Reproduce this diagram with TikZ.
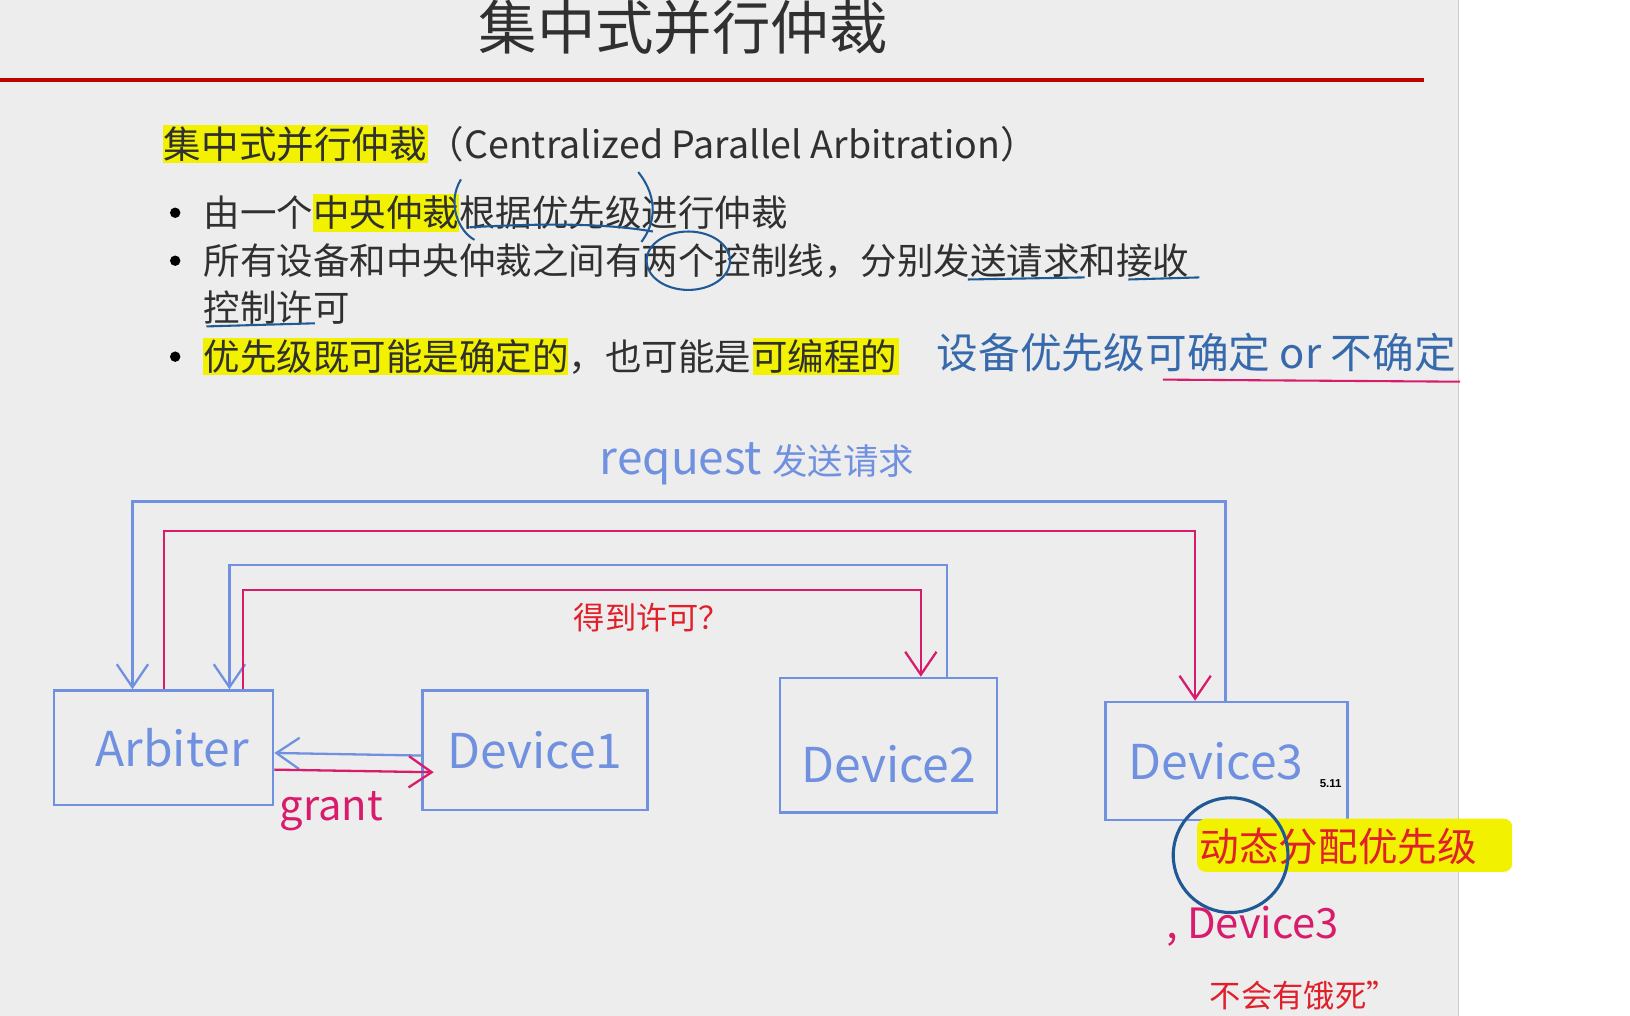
\documentclass[tikz,border=0pt]{standalone}
\usepackage{fontspec}
\setmainfont{Liberation Sans}
\newfontfamily\cjk{Noto Sans CJK SC}
\usetikzlibrary{arrows.meta}
\definecolor{bg}{HTML}{EDEDED}
\definecolor{boxblue}{HTML}{7090E0}
\definecolor{pinkl}{HTML}{D81B6A}
\definecolor{redh}{HTML}{E0202A}
\definecolor{inkblue}{HTML}{1F5A96}
\definecolor{hl}{HTML}{F2F200}
\definecolor{txt}{HTML}{303030}
\tikzset{
  fs/.style={font=\cjk\fontsize{#1}{#1}\selectfont},
  body/.style={fs=35,text=txt,anchor=west,inner sep=0pt},
  devbox/.style={draw=boxblue,line width=2.2pt,inner sep=0pt},
  bl/.style={draw=boxblue,line width=2.2pt},
  pk/.style={draw=pinkl,line width=2.2pt},
  arr/.style={-{Straight Barb[length=22pt,width=30pt,line width=2.2pt]}},
  hand/.style={inner sep=0pt,anchor=west},
  ink/.style={draw=inkblue,line width=2pt},
}
\begin{document}
\begin{tikzpicture}[x=1pt,y=-1pt]
\useasboundingbox (0,0) rectangle (1563,974);
\fill[bg] (0,0) rectangle (1398,974);
\draw[gray!40,line width=0.8pt] (1398,0) -- (1398,974);
\node[fs=56,text=txt] (title) at (655,26) {集中式并行仲裁};
\draw[red!75!black,line width=4pt] (0,77) -- (1365,77);
% heading
\fill[hl] (156,120) rectangle (410,156);
\node[body,fs=36] (head) at (157,138) {集中式并行仲裁（Centralized Parallel Arbitration）};
% highlights
\fill[hl] (300,186) rectangle (440,222);
\fill[hl] (195,324) rectangle (545,360);
\fill[hl] (722,324) rectangle (862,360);
\foreach \y/\n in {204/b1,250/b2,342/b3} \fill[black] (168,\y) circle (5) coordinate (\n);
\node[body] (l1) at (195,204) {由一个中央仲裁根据优先级进行仲裁};
\node[body] (l2) at (195,250) {所有设备和中央仲裁之间有两个控制线，分别发送请求和接收};
\node[body] (l2b) at (195,295) {控制许可};
\node[body] (l3) at (195,342) {优先级既可能是确定的，也可能是可编程的};
% blue ink annotations
\draw[ink] (442,172) .. controls (428,195) and (440,222) .. (455,230);
\draw[ink] (612,165) .. controls (632,190) and (628,215) .. (615,232);
\draw[ink] (450,218) .. controls (520,214) and (580,214) .. (626,222);
\draw[ink] (660,250) ellipse (40 and 28);
\draw[ink] (928,268) -- (1040,266);
\draw[ink] (1082,268) -- (1150,266);
\draw[ink] (198,313) -- (302,310);
\node[hand,fs=40,text=inkblue!70!boxblue] (note1) at (898,338) {设备优先级可确定 or 不确定};
\draw[pinkl,line width=2pt] (1115,364) -- (1400,366);
\node[hand,fs=44,text=boxblue] (req) at (575,445) {request \fontsize{34}{34}\selectfont 发送请求};
% boxes
\node[devbox,minimum width=210pt,minimum height=110pt] (arb) at (157,717) {};
\node[hand,fs=46,text=boxblue,anchor=center] at ([xshift=8]arb.center) {Arbiter};
\node[devbox,minimum width=216pt,minimum height=115pt] (d1) at (513,719.5) {};
\node[hand,fs=46,text=boxblue,anchor=center] at (d1.center) {Device1};
\node[devbox,minimum width=208pt,minimum height=129pt] (d2) at (852,714.5) {};
\node[hand,fs=46,text=boxblue,anchor=center] at ([yshift=-18]d2.center) {Device2};
\node[devbox,minimum width=232pt,minimum height=113pt] (d3) at (1176,729.5) {};
\node[hand,fs=46,text=boxblue,anchor=center] at ([xshift=-10]d3.center) {Device3};
\node[font=\bfseries\fontsize{11}{11}\selectfont] (v) at (1276,751) {5.11};
% connectors
\draw[bl,arr] ([xshift=-1]d3.north) -- ++(0,-191) -| ([xshift=-30]arb.north);
\draw[pk,arr] ([xshift=0]arb.north) -- ++(0,-152) -| ([xshift=-30]d3.north);
\draw[bl,arr] ([xshift=56]d2.north) -- ++(0,-107) -| ([xshift=63]arb.north);
\draw[pk,arr] ([xshift=76]arb.north) -- ++(0,-95) -| ([xshift=31]d2.north);
\draw[bl,arr] ([yshift=-5]d1.west) -- ([yshift=-5]arb.east);
\draw[pk,arr] ([yshift=-21]arb.east) -- ([xshift=12,yshift=-21]d1.west);
\node[hand,fs=40,text=pinkl] (grant) at (268,778) {grant};
\node[hand,fs=30,text=redh] (get) at (550,592) {得到许可？};
% bottom notes
\fill[hl,rounded corners=8pt] (1148,785) rectangle (1450,836);
\node[hand,fs=38,text=redh] (dyn) at (1150,812) {动态分配优先级};
\draw[inkblue,line width=3pt] (1180,820) ellipse (55 and 55);
\node[hand,fs=40,text=pinkl] (d3n) at (1118,888) {, Device3};
\node[hand,fs=30,text=redh] (hunger) at (1160,955) {不会有饿死”};
\end{tikzpicture}
\end{document}
